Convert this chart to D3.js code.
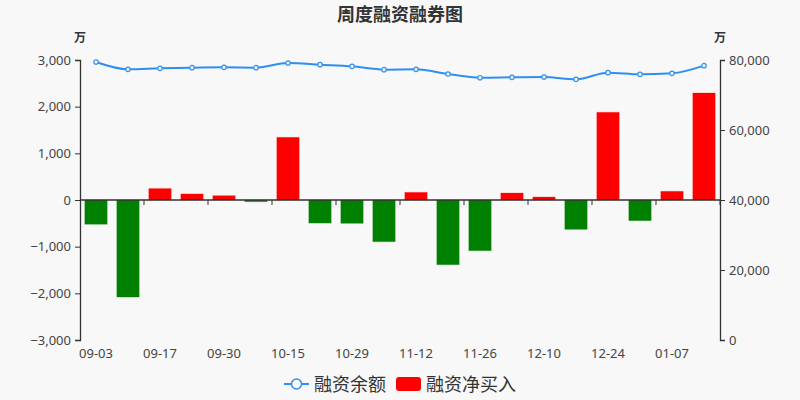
<!DOCTYPE html>
<html>
<head>
<meta charset="utf-8">
<script src="https://cdn.jsdelivr.net/npm/d3@7"></script>
<style>
  body { margin: 0; background: #f8f8f8; }
  svg { display: block; font-family: "Noto Sans CJK SC", "Noto Sans", sans-serif; }
</style>
</head>
<body>
<div id="chart"></div>
<script>
// weekly dates
const dates = ["09-03", "09-10", "09-17", "09-24", "09-30", "10-08", "10-15", "10-22", "10-29", "11-05",
  "11-12", "11-19", "11-26", "12-03", "12-10", "12-17", "12-24", "12-31", "01-07", "01-14"];
// 融资净买入 (万)
const netBuy = [-520, -2080, 245, 130, 93, -36, 1343, -495, -500, -893,
  164, -1386, -1086, 150, 64, -629, 1879, -443, 186, 2293];
// 融资余额 (万)
const balance = [79430, 77330, 77620, 77810, 77900, 77810, 79140, 78670, 78190, 77240,
  77330, 76000, 74950, 75050, 75140, 74480, 76380, 75900, 76190, 78380];
const leftTicks = [-3000, -2000, -1000, 0, 1000, 2000, 3000];
const rightTicks = [0, 20000, 40000, 60000, 80000];

const W = 800, H = 400;
const margin = { top: 60, right: 80, bottom: 60, left: 80 };
const width = W - margin.left - margin.right;
const height = H - margin.top - margin.bottom;

const svg = d3.select("#chart").append("svg")
  .attr("width", W)
  .attr("height", H);

svg.append("rect").attr("width", W).attr("height", H).attr("fill", "#f8f8f8");

const g = svg.append("g")
  .attr("transform", "translate(" + margin.left + "," + margin.top + ")");

const x = d3.scaleBand().domain(dates).range([0, width]);
const yL = d3.scaleLinear().domain([-3000, 3000]).range([height, 0]);
const yR = d3.scaleLinear().domain([0, 80000]).range([height, 0]);

const fmt = d3.format(",");

// left axis
const leftAxis = g.append("g")
  .call(d3.axisLeft(yL).tickValues(leftTicks).tickFormat(fmt).tickSize(5).tickPadding(4));
// right axis
const rightAxis = g.append("g")
  .attr("transform", "translate(" + width + ",0)")
  .call(d3.axisRight(yR).tickValues(rightTicks).tickFormat(fmt).tickSize(5).tickPadding(4));

[leftAxis, rightAxis].forEach(ax => {
  ax.select(".domain").attr("stroke", "#333").attr("stroke-width", 1.3);
  ax.selectAll(".tick line").attr("stroke", "#333");
  ax.selectAll(".tick text").attr("fill", "#444").style("font-size", "13px")
    .style("font-family", "'Noto Sans', sans-serif");
});

// bars
g.selectAll(".bar")
  .data(netBuy)
  .enter()
  .append("rect")
  .attr("x", (d, i) => x(dates[i]) + x.bandwidth() * 0.15)
  .attr("width", x.bandwidth() * 0.7)
  .attr("y", d => yL(Math.max(0, d)))
  .attr("height", d => Math.abs(yL(d) - yL(0)))
  .attr("fill", d => d >= 0 ? "#ff0000" : "#008000")
  .attr("stroke", d => d >= 0 ? "rgba(255,0,0,0.25)" : "rgba(0,128,0,0.25)")
  .attr("stroke-width", 1);

// x axis at zero
const xAxisG = g.append("g").attr("transform", "translate(0," + yL(0) + ")");
xAxisG.append("line").attr("x1", 0).attr("x2", width).attr("stroke", "#333").attr("stroke-width", 1.3);
xAxisG.selectAll(".xt")
  .data(dates.filter((d, i) => i % 2 === 1))
  .enter()
  .append("line")
  .attr("x1", d => x(d) + x.bandwidth())
  .attr("x2", d => x(d) + x.bandwidth())
  .attr("y1", 0).attr("y2", 5)
  .attr("stroke", "#333");

// x labels at bottom
g.selectAll(".xl")
  .data(dates.filter((d, i) => i % 2 === 0))
  .enter()
  .append("text")
  .attr("x", d => x(d) + x.bandwidth() / 2)
  .attr("y", height + 18)
  .attr("text-anchor", "middle")
  .attr("fill", "#444")
  .style("font-size", "13px")
  .style("font-family", "'Noto Sans', sans-serif")
  .text(d => d);

// balance line
const line = d3.line()
  .x((d, i) => x(dates[i]) + x.bandwidth() / 2)
  .y(d => yR(d))
  .curve(d3.curveMonotoneX);

g.append("path")
  .datum(balance)
  .attr("fill", "none")
  .attr("stroke", "#2e8ff0")
  .attr("stroke-width", 2)
  .attr("d", line);

g.selectAll(".pt")
  .data(balance)
  .enter()
  .append("circle")
  .attr("cx", (d, i) => x(dates[i]) + x.bandwidth() / 2)
  .attr("cy", d => yR(d))
  .attr("r", 2.2)
  .attr("fill", "#fff")
  .attr("stroke", "#2e8ff0")
  .attr("stroke-width", 1.2);

// title & units
svg.append("text")
  .attr("x", W / 2).attr("y", 21)
  .attr("text-anchor", "middle")
  .attr("fill", "#333")
  .style("font-size", "18px")
  .style("font-weight", "bold")
  .text("周度融资融券图");

svg.append("text").attr("x", margin.left).attr("y", 42).attr("text-anchor", "middle")
  .attr("fill", "#333").style("font-size", "12px").style("font-weight", "bold").text("万");
svg.append("text").attr("x", margin.left + width).attr("y", 42).attr("text-anchor", "middle")
  .attr("fill", "#333").style("font-size", "12px").style("font-weight", "bold").text("万");

// legend
const legend = svg.append("g").attr("transform", "translate(0,384)");
legend.append("line").attr("x1", 284).attr("x2", 309).attr("y1", 0).attr("y2", 0)
  .attr("stroke", "#2e8ff0").attr("stroke-width", 2);
legend.append("circle").attr("cx", 296.5).attr("cy", 0).attr("r", 5)
  .attr("fill", "#fff").attr("stroke", "#2e8ff0").attr("stroke-width", 1.5);
legend.append("text").attr("x", 314).attr("y", 6.5).attr("fill", "#333")
  .style("font-size", "18px").text("融资余额");
legend.append("rect").attr("x", 396).attr("y", -7).attr("width", 25).attr("height", 14)
  .attr("rx", 3).attr("fill", "#ff0000");
legend.append("text").attr("x", 426).attr("y", 6.5).attr("fill", "#333")
  .style("font-size", "18px").text("融资净买入");
</script>
</body>
</html>
